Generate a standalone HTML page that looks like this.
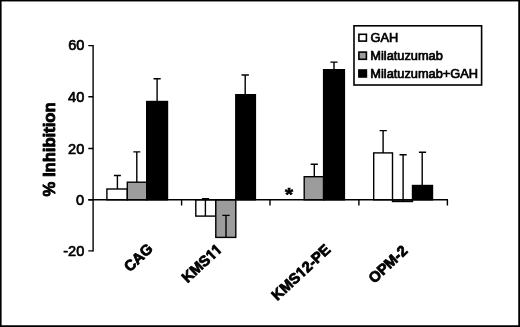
<!DOCTYPE html>
<html>
<head>
<meta charset="utf-8">
<title>Inhibition chart</title>
<style>
html,body{margin:0;padding:0;background:#fff;}
body{width:520px;height:327px;overflow:hidden;}
svg{display:block;}
text{font-family:"Liberation Sans",Arial,Helvetica,sans-serif;fill:#000;}
.b{font-weight:bold;}
</style>
</head>
<body>
<svg width="520" height="327" viewBox="0 0 520 327">
<rect x="0" y="0" width="520" height="327" fill="#fff"/>
<!-- outer border -->
<rect x="0" y="0" width="520" height="1.45" fill="#000"/>
<rect x="0" y="325.25" width="520" height="1.75" fill="#000"/>
<rect x="0" y="0" width="1.6" height="327" fill="#000"/>
<rect x="518.25" y="0" width="1.75" height="327" fill="#000"/>

<!-- bars -->
<g stroke="#000" stroke-width="1.4" transform="translate(0 0.3)">
<!-- CAG -->
<rect x="106.9" y="188.7" width="20.4" height="10.8" fill="#fff"/>
<rect x="127.3" y="181.9" width="19.4" height="17.6" fill="#9c9c9c"/>
<rect x="146.7" y="101.2" width="20.8" height="98.3" fill="#000"/>
<!-- KMS11 -->
<rect x="195.8" y="199.5" width="20" height="16.3" fill="#fff"/>
<rect x="215.8" y="199.5" width="20" height="37.6" fill="#9c9c9c"/>
<rect x="235.8" y="94.4" width="19.6" height="105.1" fill="#000"/>
<!-- KMS12-PE -->
<rect x="304.2" y="176.4" width="19.4" height="23.1" fill="#9c9c9c"/>
<rect x="323.6" y="69.4" width="20.8" height="130.1" fill="#000"/>
<!-- OPM-2 -->
<rect x="373.7" y="152.6" width="18.8" height="46.9" fill="#fff"/>
<rect x="392.5" y="199.5" width="20" height="1.7" fill="#9c9c9c"/>
<rect x="412.5" y="185.2" width="20" height="14.3" fill="#000"/>
</g>

<!-- error bars -->
<g stroke="#000" stroke-width="1.4" fill="none" transform="translate(0 0.3)">
<path d="M117.4 188.7V175.2M113.9 175.2H120.9"/>
<path d="M136.8 181.9V151.6M133.3 151.6H140.3"/>
<path d="M157.1 101.2V78.4M153.5 78.4H160.7"/>
<path d="M205.4 215.8V198.3M201.9 198.3H209.1"/>
<path d="M226 237.1V215.1M222.3 215.1H229.7"/>
<path d="M245.2 94.4V74.7M241.5 74.7H248.9"/>
<path d="M314.3 176.4V163.9M310.7 163.9H317.9"/>
<path d="M334 69.4V61.8M330.4 61.8H337.6"/>
<path d="M383.1 152.6V130.3M379.6 130.3H386.8"/>
<path d="M403.1 201.2V154.4M399.5 154.4H406.7"/>
<path d="M422.2 185.2V152M418.9 152H426.1"/>
</g>

<!-- axes -->
<g stroke="#000" stroke-width="1.4" fill="none">
<path d="M93.1 44.9V251.6"/>
<path d="M88.3 45.6H93.2M88.3 96.8H93.2M88.3 148.5H93.2M88.3 199.8H93.2M88.3 250.9H93.2"/>
<path d="M88.3 199.8H448"/>
<path d="M181.6 199.8V205.5M270 199.8V205.5M358.9 199.8V205.5M447.4 199.8V205.5"/>
</g>

<!-- y tick labels -->
<g font-size="15.2" text-anchor="end" stroke="#000" stroke-width="0.7" stroke-linejoin="round">
<text transform="translate(84.4 50.0) scale(0.96 1.005)">60</text>
<text transform="translate(84.3 102) scale(0.96 1.005)">40</text>
<text transform="translate(84.3 153.7) scale(0.96 1.005)">20</text>
<text transform="translate(84.1 205.3) scale(0.96 1.005)">0</text>
<text transform="translate(84.3 256.3) scale(0.96 1.005)">-20</text>
</g>

<!-- y axis label -->
<text class="b" font-size="16.6" text-anchor="middle" stroke="#000" stroke-width="0.9" stroke-linejoin="round" transform="translate(54.5 149.4) rotate(-90)">% Inhibition</text>

<!-- asterisk -->
<text class="b" font-size="18.3" text-anchor="middle" stroke="#000" stroke-width="0.6" transform="translate(288.9 200.8) scale(1.13 1)">*</text>

<!-- category labels -->
<g class="b" font-size="14.8" text-anchor="end" stroke="#000" stroke-width="0.8" stroke-linejoin="round">
<text transform="translate(153.7 250) rotate(-43)">CAG</text>
<g transform="translate(223 250.5) rotate(-43)"><text>KMS11</text><path stroke="none" fill="#fff" d="M-15.4 -2.3H-12.68V0.9H-15.4ZM-9.7 -2.3H-5.25V0.9H-9.7ZM-2.3 -2.3H0.9V0.9H-2.3Z"/></g>
<g transform="translate(331.5 250.8) rotate(-43)"><text>KMS12-PE</text><path stroke="none" fill="#fff" d="M-40.9 -2.3H-38.13V0.9H-40.9ZM-35.2 -2.3H-32.9V0.9H-35.2Z"/></g>
<text transform="translate(408.5 252) rotate(-43)">OPM-2</text>
</g>

<!-- legend -->
<rect x="354" y="25.8" width="127.6" height="59.2" fill="#fff" stroke="#000" stroke-width="1.6"/>
<g stroke="#000" stroke-width="1.6">
<rect x="358.9" y="34.3" width="7.5" height="6.8" fill="#fff"/>
<rect x="358.9" y="52.1" width="7.5" height="7.2" fill="#9c9c9c"/>
<rect x="358.9" y="70" width="7.5" height="7" fill="#000"/>
</g>
<g font-size="12.8" stroke="#000" stroke-width="0.7" stroke-linejoin="round">
<text x="370.6" y="42.4">GAH</text>
<text x="370.3" y="60.3">Milatuzumab</text>
<text x="370.3" y="77.9">Milatuzumab+GAH</text>
</g>
</svg>
</body>
</html>
